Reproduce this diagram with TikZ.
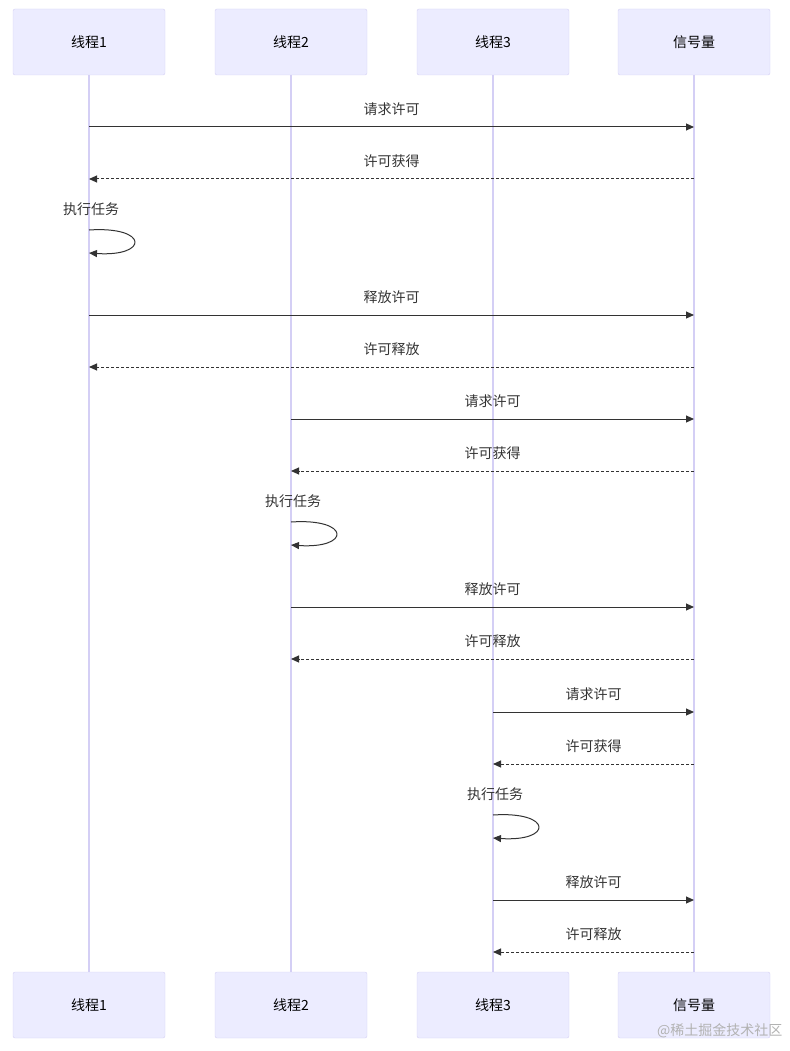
\documentclass[tikz,border=0pt]{standalone}
\usepackage{fontspec}
\setmainfont{Noto Sans CJK SC}
\usetikzlibrary{arrows.meta}
\definecolor{boxfill}{HTML}{ECECFF}
\definecolor{boxline}{HTML}{D4CFF5}
\definecolor{life}{HTML}{D4CFF5}
\definecolor{txt}{HTML}{333333}
\begin{document}
\begin{tikzpicture}[x=1pt,y=-1pt,
  actor/.style={draw=boxline,fill=boxfill,rounded corners=2pt,minimum width=152pt,minimum height=66pt,inner sep=0pt,font=\fontsize{14}{16}\selectfont,text=black},
  msg/.style={draw=txt,line width=1pt,-{Triangle[length=8pt,width=7pt]}},
  ret/.style={msg,dash pattern=on 3pt off 2pt},
  lbl/.style={font=\fontsize{14}{16}\selectfont,text=txt}]
\useasboundingbox (0,0) rectangle (789,1051);
\foreach \n/\x/\t in {a/89/线程1,b/291/线程2,c/493/线程3,d/694/信号量}{
  \draw[life,line width=1.5pt] (\x,75) -- (\x,972);
  \node[actor] (\n top) at (\x,42) {\t};
  \node[actor] (\n bot) at (\x,1005) {\t};
  \coordinate (\n) at (\x,0);
}
\foreach \s/\y in {a/0,b/292,c/585}{
  \draw[msg] (\s |- 0,127+\y) -- (d |- 0,127+\y) node[lbl,midway,above=8pt] {请求许可};
  \draw[ret] (d |- 0,179+\y) -- (\s |- 0,179+\y) node[lbl,midway,above=8pt] {许可获得};
  \node[lbl] at ([xshift=2pt]\s |- 0,209+\y) {执行任务};
  \draw[msg] (\s |- 0,230+\y) .. controls ([xshift=60pt]\s |- 0,226+\y) and ([xshift=60pt]\s |- 0,257+\y) .. (\s |- 0,253+\y);
  \draw[msg] (\s |- 0,315+\y) -- (d |- 0,315+\y) node[lbl,midway,above=8pt] {释放许可};
  \draw[ret] (d |- 0,367+\y) -- (\s |- 0,367+\y) node[lbl,midway,above=8pt] {许可释放};
}
\node[font=\fontsize{14}{16}\selectfont,text=black!30,anchor=east] (wm) at (786,1031) {@稀土掘金技术社区};
\end{tikzpicture}
\end{document}
